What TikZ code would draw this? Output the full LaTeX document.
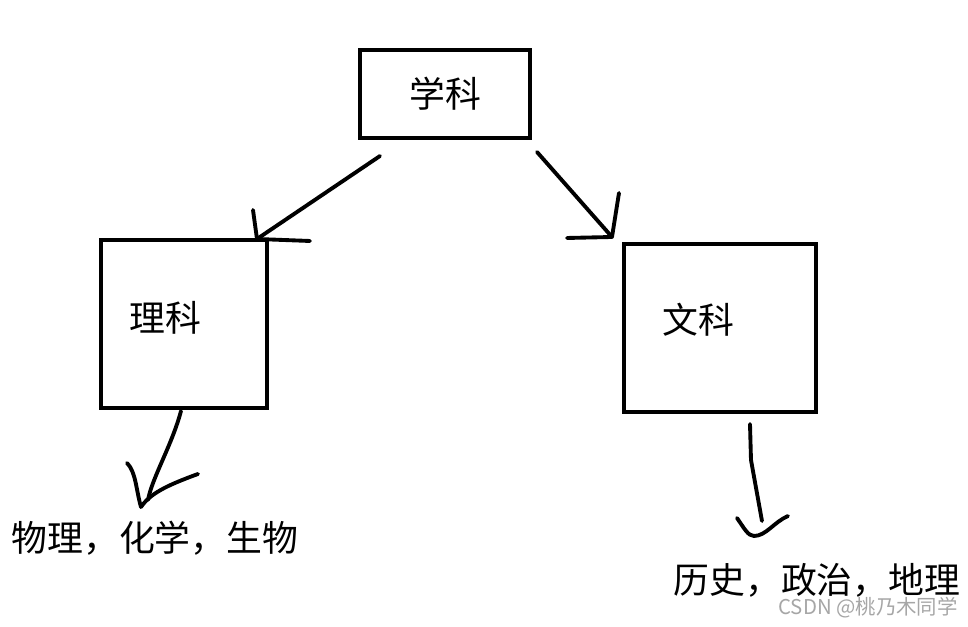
\documentclass[tikz,border=0pt]{standalone}
\usepackage{fontspec}
\setmainfont{Noto Sans CJK SC}
\usepackage{tikz}

\begin{document}
\begin{tikzpicture}[
    x=0.1mm, y=-0.1mm,
    every node/.style={font=\fontsize{10.2}{12}\selectfont},
    subject/.style={draw=black, line width=1.1pt, inner sep=0pt},
    hand/.style={draw=black, line width=1.1pt, line cap=round, line join=round},
    watermark/.style={font=\fontsize{5.8}{7}\selectfont, text=gray!70}
]
\useasboundingbox (0,0) rectangle (968,627);
% boxes
\node[subject, minimum width=17mm, minimum height=8.8mm] (xk) at (445,94) {学科};
\node[subject, minimum width=16.6mm, minimum height=16.8mm,
    label={[shift={(-19,-6)}]center:理科}] (lk) at (184,324) {};
\node[subject, minimum width=19.2mm, minimum height=16.8mm,
    label={[shift={(-22,-8)}]center:文科}] (wk) at (720,328) {};
% subject lists
\node (lkl) at (155,538) {物理，化学，生物};
\node (wkl) at (817,580) {历史，政治，地理};
% hand drawn arrows
\coordinate (a1) at (380,156);
\coordinate (t1) at (257,239);
\draw[hand] (a1) -- (t1);
\draw[hand] (253,210) -- (t1) -- (310,241);
\coordinate (a2) at (537,152);
\coordinate (t2) at (612,237);
\draw[hand] (a2) -- (t2);
\draw[hand] (619,193) -- (t2) -- (567,238);
\coordinate (a3) at (181,411);
\coordinate (t3) at (141,507);
\draw[hand] (a3) .. controls (172,445) and (152,478) .. (148,500);
\draw[hand] (127,463) .. controls (136,472) and (136,490) .. (t3)
    .. controls (150,494) and (165,486) .. (198,474);
\coordinate (a4) at (750,424);
\coordinate (t4) at (754,536);
\draw[hand] (a4) -- (751,460) -- (762,521);
\draw[hand] (737,518) .. controls (744,528) and (748,536) .. (t4)
    .. controls (766,536) and (774,522) .. (788,516);
% watermark
\node[watermark] (wm) at (868,608) {CSDN @桃乃木同学};
\end{tikzpicture}
\end{document}
